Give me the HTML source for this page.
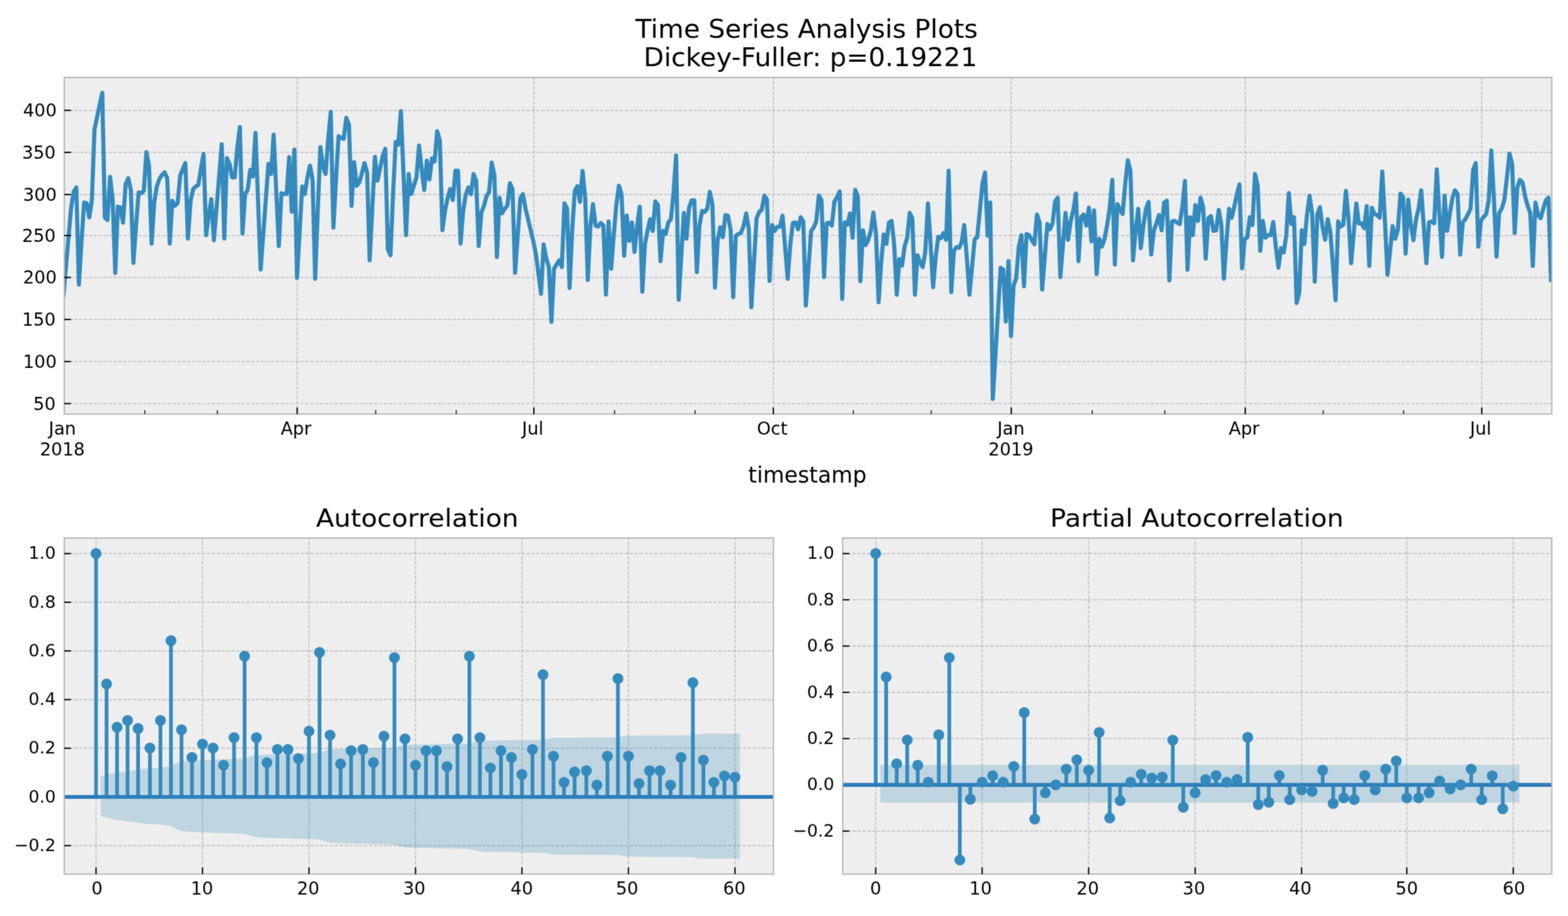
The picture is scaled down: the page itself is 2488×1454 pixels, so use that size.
<!DOCTYPE html>
<html lang="en"><head><meta charset="utf-8"><title>Time Series Analysis Plots</title>
<style>
html,body{margin:0;padding:0;background:#fff;}
body{width:2488px;height:1454px;overflow:hidden;}
svg{display:block;font-family:"DejaVu Sans", "Liberation Sans", sans-serif;}
svg text{fill:#000;}
</style></head><body>
<svg width="2488" height="1454" viewBox="0 0 2488 1454">
<defs><filter id="soft" x="0" y="0" width="2488" height="1454" filterUnits="userSpaceOnUse" color-interpolation-filters="sRGB"><feConvolveMatrix order="3" kernelMatrix="0.0400 0.1200 0.0400 0.1200 0.3600 0.1200 0.0400 0.1200 0.0400" divisor="1" edgeMode="duplicate" preserveAlpha="true"/></filter></defs>
<g id="chart">
<rect x="-20" y="-20" width="2528" height="1494" fill="#fff"/>
<rect x="102.0" y="123.0" width="2360.3" height="534.3" fill="#eeeeee"/>
<path d="M102.0 640.6H2462.3" stroke="#c4c4c4" stroke-width="1.9" stroke-dasharray="5.4 2.4" fill="none"/>
<path d="M102.0 573.9H2462.3" stroke="#c4c4c4" stroke-width="1.9" stroke-dasharray="5.4 2.4" fill="none"/>
<path d="M102.0 507.1H2462.3" stroke="#c4c4c4" stroke-width="1.9" stroke-dasharray="5.4 2.4" fill="none"/>
<path d="M102.0 440.4H2462.3" stroke="#c4c4c4" stroke-width="1.9" stroke-dasharray="5.4 2.4" fill="none"/>
<path d="M102.0 373.9H2462.3" stroke="#c4c4c4" stroke-width="1.9" stroke-dasharray="5.4 2.4" fill="none"/>
<path d="M102.0 308.8H2462.3" stroke="#c4c4c4" stroke-width="1.9" stroke-dasharray="5.4 2.4" fill="none"/>
<path d="M102.0 241.9H2462.3" stroke="#c4c4c4" stroke-width="1.9" stroke-dasharray="5.4 2.4" fill="none"/>
<path d="M102.0 175.2H2462.3" stroke="#c4c4c4" stroke-width="1.9" stroke-dasharray="5.4 2.4" fill="none"/>
<path d="M471.5 657.3V123.0" stroke="#c4c4c4" stroke-width="1.9" stroke-dasharray="5.4 2.4" fill="none"/>
<path d="M847.1 657.3V123.0" stroke="#c4c4c4" stroke-width="1.9" stroke-dasharray="5.4 2.4" fill="none"/>
<path d="M1227.1 657.3V123.0" stroke="#c4c4c4" stroke-width="1.9" stroke-dasharray="5.4 2.4" fill="none"/>
<path d="M1604.6 657.3V123.0" stroke="#c4c4c4" stroke-width="1.9" stroke-dasharray="5.4 2.4" fill="none"/>
<path d="M1975.9 657.3V123.0" stroke="#c4c4c4" stroke-width="1.9" stroke-dasharray="5.4 2.4" fill="none"/>
<path d="M2351.2 657.3V123.0" stroke="#c4c4c4" stroke-width="1.9" stroke-dasharray="5.4 2.4" fill="none"/>
<clipPath id="cts"><rect x="102.0" y="123.0" width="2360.3" height="534.3"/></clipPath>
<polyline clip-path="url(#cts)" points="100.5,471.7 104.6,423.8 108.7,377.3 112.9,329.4 117.0,304.1 121.1,297.5 125.2,451.7 129.3,383.9 133.5,321.4 137.6,322.7 141.7,345.3 145.8,317.4 149.9,205.7 154.1,185.7 158.2,165.8 162.3,147.2 166.4,345.3 170.5,349.3 174.7,280.8 178.8,318.7 182.9,433.1 187.0,328.1 191.1,329.4 195.2,353.3 199.4,292.1 203.5,282.8 207.6,301.4 211.7,417.2 215.8,358.6 220.0,305.4 224.1,306.8 228.2,302.8 232.3,241.6 236.4,262.9 240.6,386.6 244.7,321.4 248.8,296.1 252.9,284.2 257.1,277.5 261.2,273.5 265.3,282.8 269.4,386.6 273.5,318.7 277.6,326.7 281.8,322.7 285.9,278.8 290.0,268.2 294.1,258.9 298.2,378.6 302.4,318.7 306.5,300.1 310.6,296.1 314.7,293.5 318.8,268.2 323.0,244.3 327.1,373.3 331.2,341.4 335.3,316.1 339.4,381.2 343.6,330.5 347.7,279.7 351.8,229.0 355.9,378.6 360.0,250.9 364.2,260.2 368.3,281.5 372.4,281.5 376.5,234.9 380.6,201.7 384.8,370.6 388.9,308.1 393.0,301.4 397.1,269.5 401.2,280.2 405.4,211.0 409.5,319.4 413.6,427.8 417.7,371.9 421.8,316.1 426.0,260.2 430.1,276.2 434.2,213.7 438.3,302.1 442.4,390.6 446.6,306.8 450.7,308.1 454.8,308.1 458.9,249.6 463.0,336.0 467.1,237.6 471.3,441.1 475.4,368.6 479.5,296.1 483.6,308.1 487.8,281.5 491.9,262.9 496.0,285.5 500.1,442.4 504.2,334.7 508.4,233.6 512.5,264.2 516.6,276.2 520.7,221.7 524.8,177.8 529.0,361.3 533.1,285.5 537.2,216.3 541.3,219.0 545.4,220.3 549.5,187.1 553.7,197.7 557.8,326.7 561.9,257.6 566.0,294.8 570.1,289.5 574.3,274.9 578.4,258.9 582.5,273.5 586.6,413.2 590.7,331.0 594.9,248.9 599.0,286.8 603.1,266.9 607.2,248.2 611.3,236.3 615.5,395.9 619.6,405.2 623.7,308.1 627.8,225.6 631.9,229.6 636.1,176.4 640.2,274.9 644.3,373.3 648.4,276.2 652.5,308.1 656.7,294.8 660.8,281.5 664.9,231.0 669.0,268.2 673.1,301.4 677.3,254.9 681.4,284.8 685.5,251.4 689.6,256.2 693.7,208.3 697.9,223.0 702.0,365.3 706.1,334.7 710.2,314.8 714.3,300.1 718.5,317.4 722.6,270.9 726.7,270.9 730.8,386.6 734.9,334.7 739.0,309.4 743.2,297.5 747.3,308.1 751.4,276.2 755.5,286.8 759.6,390.6 763.8,337.4 767.9,326.7 772.0,311.4 776.1,304.8 780.2,258.1 784.4,278.0 788.5,407.9 792.6,313.9 796.7,338.7 800.9,331.4 805.0,326.7 809.1,290.8 813.2,300.1 817.3,433.1 821.5,373.9 825.6,314.8 829.7,308.1 833.8,330.7 837.9,348.0 842.0,365.3 846.2,382.6 850.3,403.9 854.4,434.4 858.5,466.4 862.6,387.9 866.8,410.5 870.9,423.8 875.0,510.9 879.1,426.5 883.2,419.8 887.4,413.2 891.5,423.8 895.6,322.7 899.7,330.7 903.8,457.1 908.0,364.0 912.1,302.8 916.2,295.5 920.3,320.6 924.4,271.3 928.6,314.8 932.7,444.4 936.8,358.6 940.9,324.1 945.0,358.1 949.2,359.7 953.3,353.9 957.4,358.1 961.5,467.4 965.6,351.5 969.8,426.5 973.9,371.9 978.0,324.7 982.1,294.8 986.2,308.1 990.4,405.9 994.5,342.3 998.6,382.3 1002.7,353.1 1006.8,399.9 1011.0,358.6 1015.1,328.1 1019.2,463.1 1023.3,387.9 1027.4,366.6 1031.5,348.0 1035.7,366.6 1039.8,319.7 1043.9,324.7 1048.0,414.5 1052.2,366.6 1056.3,371.4 1060.4,353.3 1064.5,348.0 1068.6,308.1 1072.8,246.9 1076.9,475.7 1081.0,406.9 1085.1,338.0 1089.2,379.0 1093.3,329.8 1097.5,318.1 1101.6,318.1 1105.7,431.8 1109.8,358.6 1114.0,334.7 1118.1,336.4 1122.2,331.4 1126.3,304.6 1130.4,324.7 1134.5,456.4 1138.7,381.2 1142.8,360.6 1146.9,376.5 1151.0,341.4 1155.1,342.3 1159.3,364.8 1163.4,471.7 1167.5,374.6 1171.6,371.4 1175.7,369.8 1179.9,358.6 1184.0,338.7 1188.1,363.0 1192.2,487.6 1196.3,417.0 1200.5,346.4 1204.6,336.4 1208.7,333.1 1212.8,310.5 1216.9,316.4 1221.1,445.8 1225.2,357.3 1229.3,366.6 1233.4,360.0 1237.5,360.0 1241.7,342.3 1245.8,392.4 1249.9,442.4 1254.0,387.9 1258.1,354.0 1262.3,353.3 1266.4,364.0 1270.5,344.7 1274.6,351.5 1278.7,485.0 1282.8,425.8 1287.0,366.6 1291.1,361.3 1295.2,351.5 1299.3,310.5 1303.5,318.1 1307.6,439.8 1311.7,354.6 1315.8,353.3 1319.9,358.1 1324.0,319.7 1328.2,313.0 1332.3,303.8 1336.4,474.4 1340.5,353.1 1344.7,356.4 1348.8,338.7 1352.9,377.3 1357.0,301.4 1361.1,311.4 1365.2,446.4 1369.4,365.6 1373.5,389.0 1377.6,381.2 1381.7,366.6 1385.8,337.4 1390.0,371.4 1394.1,479.7 1398.2,416.5 1402.3,372.2 1406.4,387.2 1410.6,353.1 1414.7,350.7 1418.8,387.9 1422.9,467.7 1427.0,411.2 1431.2,421.8 1435.3,391.5 1439.4,378.1 1443.5,338.0 1447.6,346.4 1451.8,467.7 1455.9,405.2 1460.0,416.5 1464.1,423.8 1468.2,399.9 1472.4,323.0 1476.5,385.2 1480.6,455.7 1484.7,407.9 1488.8,375.7 1493.0,378.1 1497.1,369.8 1501.2,380.6 1505.3,270.9 1509.4,463.7 1513.6,398.1 1517.7,392.3 1521.8,393.2 1525.9,384.8 1530.0,357.3 1534.2,410.5 1538.3,467.7 1542.4,423.8 1546.5,379.9 1550.6,376.5 1554.8,333.4 1558.9,291.3 1563.0,273.8 1567.1,373.9 1571.2,321.4 1575.3,633.3 1579.5,564.0 1583.6,494.3 1587.7,425.1 1591.8,427.8 1596.0,510.3 1600.1,414.5 1604.2,533.4 1608.3,453.1 1612.4,441.8 1616.5,391.9 1620.7,373.3 1624.8,454.4 1628.9,371.4 1633.0,373.3 1637.2,381.2 1641.3,387.9 1645.4,340.6 1649.5,353.1 1653.6,459.7 1657.8,407.6 1661.9,355.6 1666.0,364.0 1670.1,354.6 1674.2,319.7 1678.3,313.8 1682.5,439.8 1686.6,388.9 1690.7,338.0 1694.8,380.6 1698.9,350.7 1703.1,333.4 1707.2,307.2 1711.3,414.5 1715.4,344.7 1719.5,340.6 1723.7,358.1 1727.8,329.8 1731.9,383.1 1736.0,333.9 1740.1,435.1 1744.3,379.0 1748.4,391.5 1752.5,379.9 1756.6,358.1 1760.7,331.4 1764.9,285.5 1769.0,419.8 1773.1,324.1 1777.2,333.1 1781.3,339.8 1785.5,291.3 1789.6,254.6 1793.7,271.3 1797.8,413.2 1801.9,366.6 1806.1,331.4 1810.2,394.0 1814.3,358.1 1818.4,331.4 1822.5,320.5 1826.7,403.9 1830.8,366.6 1834.9,354.6 1839.0,341.4 1843.1,365.6 1847.2,321.4 1851.4,318.7 1855.5,445.1 1859.6,351.5 1863.7,350.7 1867.8,353.3 1872.0,355.6 1876.1,328.1 1880.2,287.2 1884.3,428.2 1888.5,344.7 1892.6,373.3 1896.7,325.4 1900.8,350.7 1904.9,313.8 1909.0,328.1 1913.2,410.5 1917.3,346.4 1921.4,343.1 1925.5,366.6 1929.7,365.6 1933.8,333.1 1937.9,356.4 1942.0,442.4 1946.1,383.1 1950.2,331.4 1954.4,345.6 1958.5,328.1 1962.6,308.1 1966.7,292.9 1970.8,425.8 1975.0,379.9 1979.1,376.5 1983.2,344.7 1987.3,357.3 1991.4,276.2 1995.6,294.8 1999.7,398.1 2003.8,350.7 2007.9,377.3 2012.0,373.3 2016.2,373.3 2020.3,352.3 2024.4,391.9 2028.5,424.9 2032.6,394.0 2036.8,400.7 2040.9,374.6 2045.0,306.4 2049.1,355.6 2053.2,344.7 2057.4,481.0 2061.5,465.0 2065.6,365.6 2069.7,387.2 2073.8,341.4 2078.0,310.8 2082.1,340.0 2086.2,447.1 2090.3,340.0 2094.4,328.9 2098.6,361.3 2102.7,380.6 2106.8,348.0 2110.9,367.9 2115.0,421.1 2119.2,476.6 2123.3,351.5 2127.4,359.7 2131.5,356.4 2135.6,303.1 2139.8,348.0 2143.9,417.8 2148.0,370.4 2152.1,323.0 2156.2,354.6 2160.3,354.6 2164.5,362.2 2168.6,327.2 2172.7,422.1 2176.8,329.8 2180.9,339.8 2185.1,341.4 2189.2,345.6 2193.3,272.2 2197.4,348.0 2201.6,435.8 2205.7,398.5 2209.8,358.9 2213.9,379.0 2218.0,364.8 2222.2,307.2 2226.3,313.0 2230.4,402.5 2234.5,317.1 2238.6,356.4 2242.7,381.2 2246.9,348.0 2251.0,331.4 2255.1,302.1 2259.2,360.0 2263.3,417.8 2267.5,353.1 2271.6,351.5 2275.7,354.6 2279.8,268.9 2283.9,340.0 2288.1,407.9 2292.2,310.5 2296.3,366.6 2300.4,340.0 2304.5,314.8 2308.7,302.1 2312.8,308.1 2316.9,403.9 2321.0,353.1 2325.1,348.0 2329.3,340.0 2333.4,331.4 2337.5,269.5 2341.6,258.9 2345.7,391.5 2349.9,349.7 2354.0,344.7 2358.1,339.8 2362.2,318.1 2366.3,238.9 2370.4,314.8 2374.6,407.2 2378.7,338.0 2382.8,331.4 2386.9,318.1 2391.1,281.5 2395.2,243.7 2399.3,259.7 2403.4,369.8 2407.5,298.0 2411.7,285.5 2415.8,289.5 2419.9,311.4 2424.0,326.7 2428.1,338.0 2432.2,422.1 2436.4,321.4 2440.5,341.4 2444.6,346.4 2448.7,331.4 2452.8,318.1 2457.0,313.8 2461.1,447.8" fill="none" stroke="#348ABD" stroke-width="6.5" stroke-linejoin="round" stroke-linecap="butt"/>
<rect x="102.0" y="123.0" width="2360.3" height="534.3" fill="none" stroke="#b8b8b8" stroke-width="2.15"/>
<path d="M102.0 640.6h10.5" stroke="#000" stroke-width="2.05"/>
<text x="88.5" y="650.5" text-anchor="end" font-size="28.1">50</text>
<path d="M102.0 573.9h10.5" stroke="#000" stroke-width="2.05"/>
<text x="90.1" y="583.8" text-anchor="end" font-size="28.1">100</text>
<path d="M102.0 507.1h10.5" stroke="#000" stroke-width="2.05"/>
<text x="88.5" y="517.0" text-anchor="end" font-size="28.1">150</text>
<path d="M102.0 440.4h10.5" stroke="#000" stroke-width="2.05"/>
<text x="90.1" y="450.3" text-anchor="end" font-size="28.1">200</text>
<path d="M102.0 373.9h10.5" stroke="#000" stroke-width="2.05"/>
<text x="88.5" y="383.8" text-anchor="end" font-size="28.1">250</text>
<path d="M102.0 308.8h10.5" stroke="#000" stroke-width="2.05"/>
<text x="90.1" y="318.7" text-anchor="end" font-size="28.1">300</text>
<path d="M102.0 241.9h10.5" stroke="#000" stroke-width="2.05"/>
<text x="88.5" y="251.8" text-anchor="end" font-size="28.1">350</text>
<path d="M102.0 175.2h10.5" stroke="#000" stroke-width="2.05"/>
<text x="90.1" y="185.1" text-anchor="end" font-size="28.1">400</text>
<text x="99.0" y="689.8" text-anchor="middle" font-size="28.1">Jan</text>
<text x="99.0" y="722.8" text-anchor="middle" font-size="28.1">2018</text>
<path d="M229.7 657.3v-6" stroke="#000" stroke-width="1.5"/>
<path d="M345.0 657.3v-6" stroke="#000" stroke-width="1.5"/>
<path d="M471.5 657.3v-10.5" stroke="#000" stroke-width="2.05"/>
<text x="469.7" y="689.8" text-anchor="middle" font-size="28.1">Apr</text>
<path d="M596.2 657.3v-6" stroke="#000" stroke-width="1.5"/>
<path d="M723.9 657.3v-6" stroke="#000" stroke-width="1.5"/>
<path d="M847.1 657.3v-10.5" stroke="#000" stroke-width="2.05"/>
<text x="845.3" y="689.8" text-anchor="middle" font-size="28.1">Jul</text>
<path d="M975.2 657.3v-6" stroke="#000" stroke-width="1.5"/>
<path d="M1102.8 657.3v-6" stroke="#000" stroke-width="1.5"/>
<path d="M1227.1 657.3v-10.5" stroke="#000" stroke-width="2.05"/>
<text x="1225.3" y="689.8" text-anchor="middle" font-size="28.1">Oct</text>
<path d="M1354.1 657.3v-6" stroke="#000" stroke-width="1.5"/>
<path d="M1477.6 657.3v-6" stroke="#000" stroke-width="1.5"/>
<path d="M1604.6 657.3v-10.5" stroke="#000" stroke-width="2.05"/>
<text x="1604.1" y="689.8" text-anchor="middle" font-size="28.1">Jan</text>
<text x="1604.1" y="722.8" text-anchor="middle" font-size="28.1">2019</text>
<path d="M1733.0 657.3v-6" stroke="#000" stroke-width="1.5"/>
<path d="M1848.3 657.3v-6" stroke="#000" stroke-width="1.5"/>
<path d="M1975.9 657.3v-10.5" stroke="#000" stroke-width="2.05"/>
<text x="1974.1" y="689.8" text-anchor="middle" font-size="28.1">Apr</text>
<path d="M2099.6 657.3v-6" stroke="#000" stroke-width="1.5"/>
<path d="M2227.2 657.3v-6" stroke="#000" stroke-width="1.5"/>
<path d="M2351.2 657.3v-10.5" stroke="#000" stroke-width="2.05"/>
<text x="2349.4" y="689.8" text-anchor="middle" font-size="28.1">Jul</text>
<text x="1281.2" y="766.3" text-anchor="middle" font-size="34.8">timestamp</text>
<text transform="translate(1280.0 60.0) scale(1 0.975)" text-anchor="middle" font-size="41.8">Time Series Analysis Plots</text>
<text transform="translate(1286.0 105.3) scale(1 0.975)" text-anchor="middle" font-size="41.8">Dickey-Fuller: p=0.19221</text>
<rect x="102.0" y="854.0" width="1125.2" height="533.5" fill="#eeeeee"/>
<path d="M102.0 1342.3H1227.2" stroke="#c4c4c4" stroke-width="1.9" stroke-dasharray="5.4 2.4" fill="none"/>
<path d="M102.0 1265.0H1227.2" stroke="#c4c4c4" stroke-width="1.9" stroke-dasharray="5.4 2.4" fill="none"/>
<path d="M102.0 1187.7H1227.2" stroke="#c4c4c4" stroke-width="1.9" stroke-dasharray="5.4 2.4" fill="none"/>
<path d="M102.0 1110.5H1227.2" stroke="#c4c4c4" stroke-width="1.9" stroke-dasharray="5.4 2.4" fill="none"/>
<path d="M102.0 1033.2H1227.2" stroke="#c4c4c4" stroke-width="1.9" stroke-dasharray="5.4 2.4" fill="none"/>
<path d="M102.0 956.0H1227.2" stroke="#c4c4c4" stroke-width="1.9" stroke-dasharray="5.4 2.4" fill="none"/>
<path d="M102.0 878.7H1227.2" stroke="#c4c4c4" stroke-width="1.9" stroke-dasharray="5.4 2.4" fill="none"/>
<path d="M152.4 1387.5V854.0" stroke="#c4c4c4" stroke-width="1.9" stroke-dasharray="5.4 2.4" fill="none"/>
<path d="M321.3 1387.5V854.0" stroke="#c4c4c4" stroke-width="1.9" stroke-dasharray="5.4 2.4" fill="none"/>
<path d="M490.3 1387.5V854.0" stroke="#c4c4c4" stroke-width="1.9" stroke-dasharray="5.4 2.4" fill="none"/>
<path d="M659.3 1387.5V854.0" stroke="#c4c4c4" stroke-width="1.9" stroke-dasharray="5.4 2.4" fill="none"/>
<path d="M828.2 1387.5V854.0" stroke="#c4c4c4" stroke-width="1.9" stroke-dasharray="5.4 2.4" fill="none"/>
<path d="M997.2 1387.5V854.0" stroke="#c4c4c4" stroke-width="1.9" stroke-dasharray="5.4 2.4" fill="none"/>
<path d="M1166.2 1387.5V854.0" stroke="#c4c4c4" stroke-width="1.9" stroke-dasharray="5.4 2.4" fill="none"/>
<clipPath id="c102"><rect x="102.0" y="854.0" width="1125.2" height="533.5"/></clipPath>
<g clip-path="url(#c102)">
<path d="M152.4 1265.0V878.7 M169.1 1265.0V1085.6 M185.7 1265.0V1154.4 M202.4 1265.0V1143.6 M219.1 1265.0V1156.4 M237.9 1265.0V1187.4 M254.6 1265.0V1143.6 M271.3 1265.0V1016.9 M288.0 1265.0V1158.3 M304.6 1265.0V1202.3 M321.3 1265.0V1181.1 M338.0 1265.0V1187.4 M354.7 1265.0V1214.6 M371.4 1265.0V1170.9 M388.1 1265.0V1041.6 M406.9 1265.0V1170.9 M423.6 1265.0V1210.6 M440.2 1265.0V1189.6 M456.9 1265.0V1189.6 M473.6 1265.0V1204.1 M490.3 1265.0V1160.6 M507.0 1265.0V1035.5 M523.7 1265.0V1166.9 M540.4 1265.0V1212.5 M557.1 1265.0V1191.6 M575.8 1265.0V1189.6 M592.5 1265.0V1210.3 M609.2 1265.0V1168.6 M625.9 1265.0V1043.9 M642.6 1265.0V1172.9 M659.3 1265.0V1214.6 M676.0 1265.0V1191.6 M692.6 1265.0V1191.6 M709.3 1265.0V1216.9 M726.0 1265.0V1172.9 M744.8 1265.0V1041.6 M761.5 1265.0V1170.9 M778.2 1265.0V1219.0 M794.9 1265.0V1191.6 M811.5 1265.0V1202.3 M828.2 1265.0V1229.3 M844.9 1265.0V1189.6 M861.6 1265.0V1070.9 M878.3 1265.0V1200.3 M895.0 1265.0V1241.9 M911.7 1265.0V1225.3 M930.4 1265.0V1223.3 M947.1 1265.0V1246.1 M963.8 1265.0V1200.3 M980.5 1265.0V1077.2 M997.2 1265.0V1200.3 M1013.9 1265.0V1243.9 M1030.6 1265.0V1223.3 M1047.3 1265.0V1223.3 M1064.0 1265.0V1246.1 M1080.6 1265.0V1202.3 M1099.4 1265.0V1083.6 M1116.1 1265.0V1206.6 M1132.8 1265.0V1241.9 M1149.5 1265.0V1231.6 M1166.2 1265.0V1233.6" stroke="#348ABD" stroke-width="5.9" fill="none"/>
<path d="M102.0 1265.0H1227.2" stroke="#2b7bba" stroke-width="6.2"/>
<circle cx="152.4" cy="878.7" r="8.6" fill="#348ABD"/>
<circle cx="169.1" cy="1085.6" r="8.6" fill="#348ABD"/>
<circle cx="185.7" cy="1154.4" r="8.6" fill="#348ABD"/>
<circle cx="202.4" cy="1143.6" r="8.6" fill="#348ABD"/>
<circle cx="219.1" cy="1156.4" r="8.6" fill="#348ABD"/>
<circle cx="237.9" cy="1187.4" r="8.6" fill="#348ABD"/>
<circle cx="254.6" cy="1143.6" r="8.6" fill="#348ABD"/>
<circle cx="271.3" cy="1016.9" r="8.6" fill="#348ABD"/>
<circle cx="288.0" cy="1158.3" r="8.6" fill="#348ABD"/>
<circle cx="304.6" cy="1202.3" r="8.6" fill="#348ABD"/>
<circle cx="321.3" cy="1181.1" r="8.6" fill="#348ABD"/>
<circle cx="338.0" cy="1187.4" r="8.6" fill="#348ABD"/>
<circle cx="354.7" cy="1214.6" r="8.6" fill="#348ABD"/>
<circle cx="371.4" cy="1170.9" r="8.6" fill="#348ABD"/>
<circle cx="388.1" cy="1041.6" r="8.6" fill="#348ABD"/>
<circle cx="406.9" cy="1170.9" r="8.6" fill="#348ABD"/>
<circle cx="423.6" cy="1210.6" r="8.6" fill="#348ABD"/>
<circle cx="440.2" cy="1189.6" r="8.6" fill="#348ABD"/>
<circle cx="456.9" cy="1189.6" r="8.6" fill="#348ABD"/>
<circle cx="473.6" cy="1204.1" r="8.6" fill="#348ABD"/>
<circle cx="490.3" cy="1160.6" r="8.6" fill="#348ABD"/>
<circle cx="507.0" cy="1035.5" r="8.6" fill="#348ABD"/>
<circle cx="523.7" cy="1166.9" r="8.6" fill="#348ABD"/>
<circle cx="540.4" cy="1212.5" r="8.6" fill="#348ABD"/>
<circle cx="557.1" cy="1191.6" r="8.6" fill="#348ABD"/>
<circle cx="575.8" cy="1189.6" r="8.6" fill="#348ABD"/>
<circle cx="592.5" cy="1210.3" r="8.6" fill="#348ABD"/>
<circle cx="609.2" cy="1168.6" r="8.6" fill="#348ABD"/>
<circle cx="625.9" cy="1043.9" r="8.6" fill="#348ABD"/>
<circle cx="642.6" cy="1172.9" r="8.6" fill="#348ABD"/>
<circle cx="659.3" cy="1214.6" r="8.6" fill="#348ABD"/>
<circle cx="676.0" cy="1191.6" r="8.6" fill="#348ABD"/>
<circle cx="692.6" cy="1191.6" r="8.6" fill="#348ABD"/>
<circle cx="709.3" cy="1216.9" r="8.6" fill="#348ABD"/>
<circle cx="726.0" cy="1172.9" r="8.6" fill="#348ABD"/>
<circle cx="744.8" cy="1041.6" r="8.6" fill="#348ABD"/>
<circle cx="761.5" cy="1170.9" r="8.6" fill="#348ABD"/>
<circle cx="778.2" cy="1219.0" r="8.6" fill="#348ABD"/>
<circle cx="794.9" cy="1191.6" r="8.6" fill="#348ABD"/>
<circle cx="811.5" cy="1202.3" r="8.6" fill="#348ABD"/>
<circle cx="828.2" cy="1229.3" r="8.6" fill="#348ABD"/>
<circle cx="844.9" cy="1189.6" r="8.6" fill="#348ABD"/>
<circle cx="861.6" cy="1070.9" r="8.6" fill="#348ABD"/>
<circle cx="878.3" cy="1200.3" r="8.6" fill="#348ABD"/>
<circle cx="895.0" cy="1241.9" r="8.6" fill="#348ABD"/>
<circle cx="911.7" cy="1225.3" r="8.6" fill="#348ABD"/>
<circle cx="930.4" cy="1223.3" r="8.6" fill="#348ABD"/>
<circle cx="947.1" cy="1246.1" r="8.6" fill="#348ABD"/>
<circle cx="963.8" cy="1200.3" r="8.6" fill="#348ABD"/>
<circle cx="980.5" cy="1077.2" r="8.6" fill="#348ABD"/>
<circle cx="997.2" cy="1200.3" r="8.6" fill="#348ABD"/>
<circle cx="1013.9" cy="1243.9" r="8.6" fill="#348ABD"/>
<circle cx="1030.6" cy="1223.3" r="8.6" fill="#348ABD"/>
<circle cx="1047.3" cy="1223.3" r="8.6" fill="#348ABD"/>
<circle cx="1064.0" cy="1246.1" r="8.6" fill="#348ABD"/>
<circle cx="1080.6" cy="1202.3" r="8.6" fill="#348ABD"/>
<circle cx="1099.4" cy="1083.6" r="8.6" fill="#348ABD"/>
<circle cx="1116.1" cy="1206.6" r="8.6" fill="#348ABD"/>
<circle cx="1132.8" cy="1241.9" r="8.6" fill="#348ABD"/>
<circle cx="1149.5" cy="1231.6" r="8.6" fill="#348ABD"/>
<circle cx="1166.2" cy="1233.6" r="8.6" fill="#348ABD"/>
<polygon points="159.8,1232.2 185.2,1226.0 202.1,1223.9 219.0,1221.5 235.9,1219.7 252.8,1218.8 269.7,1216.6 286.6,1208.6 303.5,1207.2 320.4,1206.7 337.3,1205.9 354.2,1205.2 371.1,1204.9 388.0,1203.9 404.9,1198.6 421.8,1197.7 438.7,1197.4 455.6,1196.8 472.5,1196.3 489.4,1195.9 506.3,1194.8 523.2,1189.9 540.1,1189.0 557.0,1188.8 573.9,1188.3 590.8,1187.8 607.7,1187.5 624.6,1186.7 641.5,1182.6 658.4,1181.9 675.3,1181.7 692.2,1181.3 709.1,1180.8 726.0,1180.6 742.9,1180.0 759.8,1176.1 776.7,1175.4 793.6,1175.2 810.5,1174.8 827.4,1174.5 844.3,1174.4 861.2,1174.0 878.1,1171.2 895.0,1170.9 911.9,1170.9 928.8,1170.8 945.7,1170.7 962.6,1170.6 979.5,1170.3 996.4,1167.8 1013.3,1167.6 1030.2,1167.5 1047.1,1167.4 1064.0,1167.3 1080.9,1167.3 1097.8,1167.0 1114.7,1164.7 1131.6,1164.5 1148.5,1164.5 1173.8,1164.4 1173.8,1363.2 1148.5,1363.1 1131.6,1363.1 1114.7,1362.9 1097.8,1360.6 1080.9,1360.3 1064.0,1360.3 1047.1,1360.2 1030.2,1360.1 1013.3,1360.0 996.4,1359.8 979.5,1357.3 962.6,1357.0 945.7,1356.9 928.8,1356.8 911.9,1356.7 895.0,1356.7 878.1,1356.4 861.2,1353.6 844.3,1353.2 827.4,1353.1 810.5,1352.8 793.6,1352.4 776.7,1352.2 759.8,1351.5 742.9,1347.6 726.0,1347.0 709.1,1346.8 692.2,1346.3 675.3,1345.9 658.4,1345.7 641.5,1345.0 624.6,1340.9 607.7,1340.1 590.8,1339.8 573.9,1339.3 557.0,1338.8 540.1,1338.6 523.2,1337.7 506.3,1332.8 489.4,1331.7 472.5,1331.3 455.6,1330.8 438.7,1330.2 421.8,1329.9 404.9,1329.0 388.0,1323.7 371.1,1322.7 354.2,1322.4 337.3,1321.7 320.4,1320.9 303.5,1320.4 286.6,1319.0 269.7,1311.0 252.8,1308.8 235.9,1307.9 219.0,1306.1 202.1,1303.7 185.2,1301.6 159.8,1295.4" fill="#348ABD" fill-opacity="0.25"/>
</g>
<rect x="102.0" y="854.0" width="1125.2" height="533.5" fill="none" stroke="#b8b8b8" stroke-width="2.15"/>
<path d="M102.0 1342.3h10.5" stroke="#000" stroke-width="2.05"/>
<text x="88.5" y="1350.9" text-anchor="end" font-size="27.2">−0.2</text>
<text x="88.5" y="1273.6" text-anchor="end" font-size="27.2">0.0</text>
<path d="M102.0 1187.7h10.5" stroke="#000" stroke-width="2.05"/>
<text x="88.5" y="1196.3" text-anchor="end" font-size="27.2">0.2</text>
<path d="M102.0 1110.5h10.5" stroke="#000" stroke-width="2.05"/>
<text x="88.5" y="1119.1" text-anchor="end" font-size="27.2">0.4</text>
<path d="M102.0 1033.2h10.5" stroke="#000" stroke-width="2.05"/>
<text x="88.5" y="1041.8" text-anchor="end" font-size="27.2">0.6</text>
<path d="M102.0 956.0h10.5" stroke="#000" stroke-width="2.05"/>
<text x="88.5" y="964.6" text-anchor="end" font-size="27.2">0.8</text>
<path d="M102.0 878.7h10.5" stroke="#000" stroke-width="2.05"/>
<text x="88.5" y="887.3" text-anchor="end" font-size="27.2">1.0</text>
<path d="M152.4 1387.5v-10.5" stroke="#000" stroke-width="2.05"/>
<text x="153.9" y="1420.0" text-anchor="middle" font-size="28.1">0</text>
<path d="M321.3 1387.5v-10.5" stroke="#000" stroke-width="2.05"/>
<text x="320.5" y="1420.0" text-anchor="middle" font-size="28.1">10</text>
<path d="M490.3 1387.5v-10.5" stroke="#000" stroke-width="2.05"/>
<text x="489.1" y="1420.0" text-anchor="middle" font-size="28.1">20</text>
<path d="M659.3 1387.5v-10.5" stroke="#000" stroke-width="2.05"/>
<text x="657.3" y="1420.0" text-anchor="middle" font-size="28.1">30</text>
<path d="M828.2 1387.5v-10.5" stroke="#000" stroke-width="2.05"/>
<text x="827.9" y="1420.0" text-anchor="middle" font-size="28.1">40</text>
<path d="M997.2 1387.5v-10.5" stroke="#000" stroke-width="2.05"/>
<text x="995.0" y="1420.0" text-anchor="middle" font-size="28.1">50</text>
<path d="M1166.2 1387.5v-10.5" stroke="#000" stroke-width="2.05"/>
<text x="1165.2" y="1420.0" text-anchor="middle" font-size="28.1">60</text>
<text transform="translate(662.1 836.0) scale(1 0.95)" text-anchor="middle" font-size="41.8">Autocorrelation</text>
<rect x="1337.2" y="854.0" width="1125.1" height="533.5" fill="#eeeeee"/>
<path d="M1337.2 1319.2H2462.3" stroke="#c4c4c4" stroke-width="1.9" stroke-dasharray="5.4 2.4" fill="none"/>
<path d="M1337.2 1245.8H2462.3" stroke="#c4c4c4" stroke-width="1.9" stroke-dasharray="5.4 2.4" fill="none"/>
<path d="M1337.2 1172.4H2462.3" stroke="#c4c4c4" stroke-width="1.9" stroke-dasharray="5.4 2.4" fill="none"/>
<path d="M1337.2 1099.0H2462.3" stroke="#c4c4c4" stroke-width="1.9" stroke-dasharray="5.4 2.4" fill="none"/>
<path d="M1337.2 1025.5H2462.3" stroke="#c4c4c4" stroke-width="1.9" stroke-dasharray="5.4 2.4" fill="none"/>
<path d="M1337.2 952.1H2462.3" stroke="#c4c4c4" stroke-width="1.9" stroke-dasharray="5.4 2.4" fill="none"/>
<path d="M1337.2 878.7H2462.3" stroke="#c4c4c4" stroke-width="1.9" stroke-dasharray="5.4 2.4" fill="none"/>
<path d="M1389.5 1387.5V854.0" stroke="#c4c4c4" stroke-width="1.9" stroke-dasharray="5.4 2.4" fill="none"/>
<path d="M1558.4 1387.5V854.0" stroke="#c4c4c4" stroke-width="1.9" stroke-dasharray="5.4 2.4" fill="none"/>
<path d="M1727.4 1387.5V854.0" stroke="#c4c4c4" stroke-width="1.9" stroke-dasharray="5.4 2.4" fill="none"/>
<path d="M1896.4 1387.5V854.0" stroke="#c4c4c4" stroke-width="1.9" stroke-dasharray="5.4 2.4" fill="none"/>
<path d="M2065.3 1387.5V854.0" stroke="#c4c4c4" stroke-width="1.9" stroke-dasharray="5.4 2.4" fill="none"/>
<path d="M2232.2 1387.5V854.0" stroke="#c4c4c4" stroke-width="1.9" stroke-dasharray="5.4 2.4" fill="none"/>
<path d="M2401.2 1387.5V854.0" stroke="#c4c4c4" stroke-width="1.9" stroke-dasharray="5.4 2.4" fill="none"/>
<clipPath id="c1337"><rect x="1337.2" y="854.0" width="1125.1" height="533.5"/></clipPath>
<g clip-path="url(#c1337)">
<path d="M1389.5 1245.8V878.7 M1406.1 1245.8V1074.6 M1422.8 1245.8V1212.4 M1439.5 1245.8V1174.5 M1456.2 1245.8V1214.7 M1472.9 1245.8V1241.5 M1489.6 1245.8V1166.4 M1506.3 1245.8V1044.0 M1523.0 1245.8V1365.0 M1539.7 1245.8V1268.7 M1558.4 1245.8V1241.5 M1575.1 1245.8V1231.3 M1591.8 1245.8V1241.5 M1608.5 1245.8V1216.5 M1625.2 1245.8V1131.2 M1641.9 1245.8V1300.1 M1658.6 1245.8V1258.5 M1675.2 1245.8V1245.8 M1691.9 1245.8V1220.8 M1708.6 1245.8V1206.1 M1727.4 1245.8V1222.6 M1744.1 1245.8V1162.5 M1760.8 1245.8V1298.3 M1777.5 1245.8V1271.0 M1794.1 1245.8V1241.5 M1810.8 1245.8V1229.0 M1827.5 1245.8V1235.1 M1844.2 1245.8V1233.3 M1860.9 1245.8V1174.9 M1877.6 1245.8V1281.4 M1896.4 1245.8V1258.5 M1913.0 1245.8V1237.4 M1929.7 1245.8V1231.0 M1946.4 1245.8V1241.5 M1963.1 1245.8V1237.4 M1979.8 1245.8V1170.4 M1996.5 1245.8V1277.1 M2013.2 1245.8V1273.3 M2029.9 1245.8V1231.0 M2046.5 1245.8V1269.2 M2065.3 1245.8V1254.0 M2082.0 1245.8V1256.2 M2098.7 1245.8V1222.6 M2115.4 1245.8V1275.3 M2132.1 1245.8V1266.5 M2148.8 1245.8V1269.2 M2165.5 1245.8V1231.0 M2182.1 1245.8V1254.0 M2198.8 1245.8V1220.8 M2215.5 1245.8V1207.9 M2232.2 1245.8V1266.5 M2251.0 1245.8V1266.5 M2267.7 1245.8V1258.3 M2284.4 1245.8V1239.7 M2301.0 1245.8V1252.2 M2317.7 1245.8V1245.8 M2334.4 1245.8V1220.8 M2351.1 1245.8V1269.2 M2367.8 1245.8V1231.3 M2384.5 1245.8V1283.9 M2401.2 1245.8V1247.9" stroke="#348ABD" stroke-width="5.9" fill="none"/>
<path d="M1337.2 1245.8H2462.3" stroke="#2b7bba" stroke-width="6.2"/>
<circle cx="1389.5" cy="878.7" r="8.6" fill="#348ABD"/>
<circle cx="1406.1" cy="1074.6" r="8.6" fill="#348ABD"/>
<circle cx="1422.8" cy="1212.4" r="8.6" fill="#348ABD"/>
<circle cx="1439.5" cy="1174.5" r="8.6" fill="#348ABD"/>
<circle cx="1456.2" cy="1214.7" r="8.6" fill="#348ABD"/>
<circle cx="1472.9" cy="1241.5" r="8.6" fill="#348ABD"/>
<circle cx="1489.6" cy="1166.4" r="8.6" fill="#348ABD"/>
<circle cx="1506.3" cy="1044.0" r="8.6" fill="#348ABD"/>
<circle cx="1523.0" cy="1365.0" r="8.6" fill="#348ABD"/>
<circle cx="1539.7" cy="1268.7" r="8.6" fill="#348ABD"/>
<circle cx="1558.4" cy="1241.5" r="8.6" fill="#348ABD"/>
<circle cx="1575.1" cy="1231.3" r="8.6" fill="#348ABD"/>
<circle cx="1591.8" cy="1241.5" r="8.6" fill="#348ABD"/>
<circle cx="1608.5" cy="1216.5" r="8.6" fill="#348ABD"/>
<circle cx="1625.2" cy="1131.2" r="8.6" fill="#348ABD"/>
<circle cx="1641.9" cy="1300.1" r="8.6" fill="#348ABD"/>
<circle cx="1658.6" cy="1258.5" r="8.6" fill="#348ABD"/>
<circle cx="1675.2" cy="1245.8" r="8.6" fill="#348ABD"/>
<circle cx="1691.9" cy="1220.8" r="8.6" fill="#348ABD"/>
<circle cx="1708.6" cy="1206.1" r="8.6" fill="#348ABD"/>
<circle cx="1727.4" cy="1222.6" r="8.6" fill="#348ABD"/>
<circle cx="1744.1" cy="1162.5" r="8.6" fill="#348ABD"/>
<circle cx="1760.8" cy="1298.3" r="8.6" fill="#348ABD"/>
<circle cx="1777.5" cy="1271.0" r="8.6" fill="#348ABD"/>
<circle cx="1794.1" cy="1241.5" r="8.6" fill="#348ABD"/>
<circle cx="1810.8" cy="1229.0" r="8.6" fill="#348ABD"/>
<circle cx="1827.5" cy="1235.1" r="8.6" fill="#348ABD"/>
<circle cx="1844.2" cy="1233.3" r="8.6" fill="#348ABD"/>
<circle cx="1860.9" cy="1174.9" r="8.6" fill="#348ABD"/>
<circle cx="1877.6" cy="1281.4" r="8.6" fill="#348ABD"/>
<circle cx="1896.4" cy="1258.5" r="8.6" fill="#348ABD"/>
<circle cx="1913.0" cy="1237.4" r="8.6" fill="#348ABD"/>
<circle cx="1929.7" cy="1231.0" r="8.6" fill="#348ABD"/>
<circle cx="1946.4" cy="1241.5" r="8.6" fill="#348ABD"/>
<circle cx="1963.1" cy="1237.4" r="8.6" fill="#348ABD"/>
<circle cx="1979.8" cy="1170.4" r="8.6" fill="#348ABD"/>
<circle cx="1996.5" cy="1277.1" r="8.6" fill="#348ABD"/>
<circle cx="2013.2" cy="1273.3" r="8.6" fill="#348ABD"/>
<circle cx="2029.9" cy="1231.0" r="8.6" fill="#348ABD"/>
<circle cx="2046.5" cy="1269.2" r="8.6" fill="#348ABD"/>
<circle cx="2065.3" cy="1254.0" r="8.6" fill="#348ABD"/>
<circle cx="2082.0" cy="1256.2" r="8.6" fill="#348ABD"/>
<circle cx="2098.7" cy="1222.6" r="8.6" fill="#348ABD"/>
<circle cx="2115.4" cy="1275.3" r="8.6" fill="#348ABD"/>
<circle cx="2132.1" cy="1266.5" r="8.6" fill="#348ABD"/>
<circle cx="2148.8" cy="1269.2" r="8.6" fill="#348ABD"/>
<circle cx="2165.5" cy="1231.0" r="8.6" fill="#348ABD"/>
<circle cx="2182.1" cy="1254.0" r="8.6" fill="#348ABD"/>
<circle cx="2198.8" cy="1220.8" r="8.6" fill="#348ABD"/>
<circle cx="2215.5" cy="1207.9" r="8.6" fill="#348ABD"/>
<circle cx="2232.2" cy="1266.5" r="8.6" fill="#348ABD"/>
<circle cx="2251.0" cy="1266.5" r="8.6" fill="#348ABD"/>
<circle cx="2267.7" cy="1258.3" r="8.6" fill="#348ABD"/>
<circle cx="2284.4" cy="1239.7" r="8.6" fill="#348ABD"/>
<circle cx="2301.0" cy="1252.2" r="8.6" fill="#348ABD"/>
<circle cx="2317.7" cy="1245.8" r="8.6" fill="#348ABD"/>
<circle cx="2334.4" cy="1220.8" r="8.6" fill="#348ABD"/>
<circle cx="2351.1" cy="1269.2" r="8.6" fill="#348ABD"/>
<circle cx="2367.8" cy="1231.3" r="8.6" fill="#348ABD"/>
<circle cx="2384.5" cy="1283.9" r="8.6" fill="#348ABD"/>
<circle cx="2401.2" cy="1247.9" r="8.6" fill="#348ABD"/>
<polygon points="1396.9,1214.0 2410.9,1214.0 2410.9,1274.0 1396.9,1274.0" fill="#348ABD" fill-opacity="0.25"/>
</g>
<rect x="1337.2" y="854.0" width="1125.1" height="533.5" fill="none" stroke="#b8b8b8" stroke-width="2.15"/>
<path d="M1337.2 1319.2h10.5" stroke="#000" stroke-width="2.05"/>
<text x="1323.7" y="1327.8" text-anchor="end" font-size="27.2">−0.2</text>
<text x="1323.7" y="1254.4" text-anchor="end" font-size="27.2">0.0</text>
<path d="M1337.2 1172.4h10.5" stroke="#000" stroke-width="2.05"/>
<text x="1323.7" y="1181.0" text-anchor="end" font-size="27.2">0.2</text>
<path d="M1337.2 1099.0h10.5" stroke="#000" stroke-width="2.05"/>
<text x="1323.7" y="1107.6" text-anchor="end" font-size="27.2">0.4</text>
<path d="M1337.2 1025.5h10.5" stroke="#000" stroke-width="2.05"/>
<text x="1323.7" y="1034.1" text-anchor="end" font-size="27.2">0.6</text>
<path d="M1337.2 952.1h10.5" stroke="#000" stroke-width="2.05"/>
<text x="1323.7" y="960.7" text-anchor="end" font-size="27.2">0.8</text>
<path d="M1337.2 878.7h10.5" stroke="#000" stroke-width="2.05"/>
<text x="1323.7" y="887.3" text-anchor="end" font-size="27.2">1.0</text>
<path d="M1389.5 1387.5v-10.5" stroke="#000" stroke-width="2.05"/>
<text x="1389.5" y="1420.0" text-anchor="middle" font-size="28.1">0</text>
<path d="M1558.4 1387.5v-10.5" stroke="#000" stroke-width="2.05"/>
<text x="1555.9" y="1420.0" text-anchor="middle" font-size="28.1">10</text>
<path d="M1727.4 1387.5v-10.5" stroke="#000" stroke-width="2.05"/>
<text x="1725.9" y="1420.0" text-anchor="middle" font-size="28.1">20</text>
<path d="M1896.4 1387.5v-10.5" stroke="#000" stroke-width="2.05"/>
<text x="1894.4" y="1420.0" text-anchor="middle" font-size="28.1">30</text>
<path d="M2065.3 1387.5v-10.5" stroke="#000" stroke-width="2.05"/>
<text x="2063.3" y="1420.0" text-anchor="middle" font-size="28.1">40</text>
<path d="M2232.2 1387.5v-10.5" stroke="#000" stroke-width="2.05"/>
<text x="2232.2" y="1420.0" text-anchor="middle" font-size="28.1">50</text>
<path d="M2401.2 1387.5v-10.5" stroke="#000" stroke-width="2.05"/>
<text x="2402.2" y="1420.0" text-anchor="middle" font-size="28.1">60</text>
<text transform="translate(1899.2 836.0) scale(1 0.95)" text-anchor="middle" font-size="41.8">Partial Autocorrelation</text>
</g>
<use href="#chart" filter="url(#soft)"/>
</svg>
</body></html>
